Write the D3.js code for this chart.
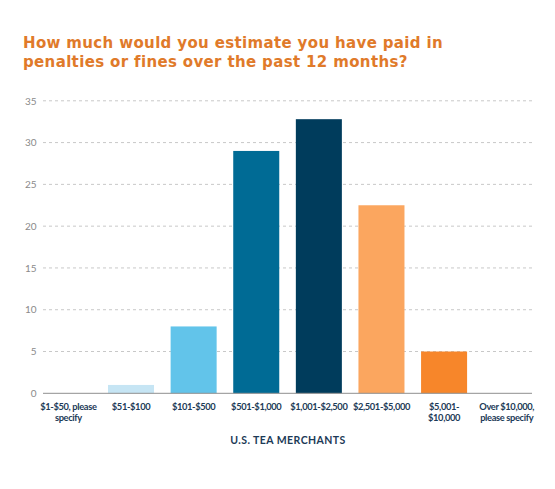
<!DOCTYPE html>
<html><head><meta charset="utf-8">
<script src="https://cdn.jsdelivr.net/npm/d3@7"></script>
<style>body{margin:0;background:#fff;} svg{display:block;}</style>
</head><body>
<svg id="c" width="555" height="489"></svg>
<script>
const categories = [["$1-$50, please","specify"],["$51-$100"],["$101-$500"],["$501-$1,000"],["$1,001-$2,500"],["$2,501-$5,000"],["$5,001-","$10,000"],["Over $10,000,","please specify"]];
const values = [0, 1, 8, 29, 32.8, 22.5, 5, 0];
const colors = ["#c6e5f4","#c6e5f4","#62c4ea","#006b95","#003c5c","#fba65f","#f7862a","#f7862a"];
const yTicks = [0,5,10,15,20,25,30,35];
const titleLines = ["How much would you estimate you have paid in","penalties or fines over the past 12 months?"];
const xTitle = "U.S. TEA MERCHANTS";

const svg = d3.select("#c");
const keys = categories.map((d,i)=>i);
const x = d3.scaleBand().domain(keys).range([37.1,538]).paddingInner(0.265).paddingOuter(0.1325);
const y = d3.scaleLinear().domain([0,35]).range([393.3,100.8]);

// title
const tt = svg.append("g").selectAll("text").data(titleLines).join("text")
  .attr("x",23).attr("y",(d,i)=>48.3+i*18.6)
  .attr("font-family","DejaVu Sans").attr("font-weight","bold").attr("font-size",15)
  .attr("fill","#e07a2a").text(d=>d);
// fit first line to the reference width (~420px) via letter spacing
const w0 = tt.node().getComputedTextLength();
const ls = (420 - w0) / titleLines[0].length;
tt.attr("letter-spacing", ls);

// grid
svg.append("g").selectAll("line").data(yTicks.filter(t=>t>0)).join("line")
  .attr("x1",43).attr("x2",532).attr("y1",d=>y(d)).attr("y2",d=>y(d))
  .attr("stroke","#c8c8c8").attr("stroke-width",1).attr("stroke-dasharray","3,3");

// y axis labels
const ya = d3.axisLeft(y).tickValues(yTicks).tickSize(0).tickPadding(0);
const yg = svg.append("g").attr("transform","translate(36.5,0)").call(ya);
yg.select(".domain").remove();
yg.selectAll("text").attr("font-family","Lato").attr("font-size",10).attr("fill","#8a8a8a");

// bars
svg.append("g").selectAll("rect").data(values).join("rect")
  .attr("x",(d,i)=>x(i)).attr("width",x.bandwidth())
  .attr("y",d=>y(d)).attr("height",d=>y(0)-y(d))
  .attr("fill",(d,i)=>colors[i]);

// baseline
svg.append("line").attr("x1",43).attr("x2",532).attr("y1",y(0)).attr("y2",y(0))
  .attr("stroke","#8f8f8f").attr("stroke-width",1);

// x labels
const xa = d3.axisBottom(x).tickSize(0).tickFormat(()=>"");
const xg = svg.append("g").attr("transform",`translate(0,${y(0)})`).call(xa);
xg.select(".domain").remove();
xg.selectAll(".tick").each(function(i){
  const t = d3.select(this).append("text").attr("text-anchor","middle")
    .attr("font-family","Lato").attr("font-weight","bold").attr("font-size",9.3)
    .attr("letter-spacing",-0.35)
    .attr("fill","#1c3a57");
  categories[i].forEach((line,j)=>{
    t.append("tspan").attr("x",0).attr("y",17.2+j*11).text(line);
  });
});

svg.append("text").attr("x",288).attr("y",443.5).attr("text-anchor","middle")
  .attr("font-family","Lato").attr("font-weight","bold").attr("font-size",10.5)
  .attr("letter-spacing",0.45)
  .attr("fill","#1c3a57").text(xTitle);
</script>
</body></html>
